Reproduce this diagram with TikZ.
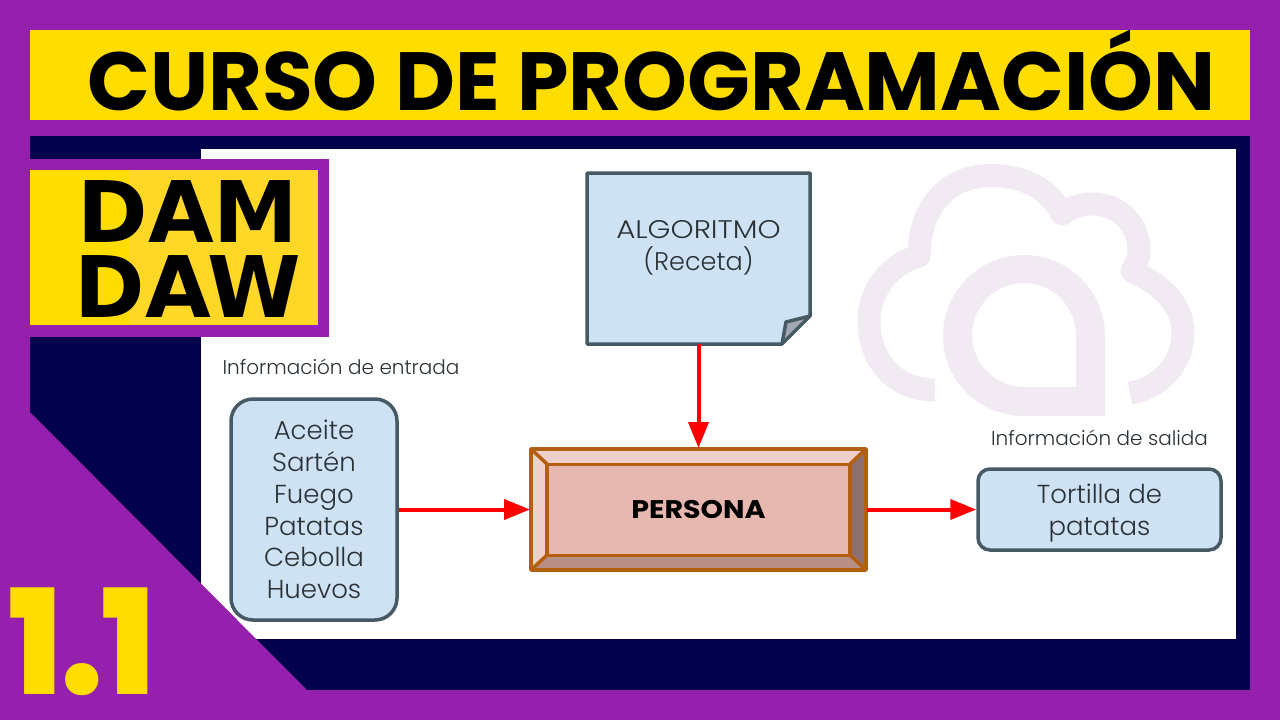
\documentclass[tikz,border=0pt]{standalone}
\usepackage{fontspec}
\usetikzlibrary{arrows.meta}
\setmainfont{Poppins}
\newfontfamily\lightf{Poppins Light}
\newfontfamily\boldf{Poppins Bold}
\newfontfamily\blackf{Poppins Black}
\newfontfamily\dejaf{DejaVu Sans Bold}
\definecolor{bgpurple}{HTML}{9620AE}
\definecolor{navy}{HTML}{03004C}
\definecolor{yell}{HTML}{FFDD00}
\definecolor{yell2}{HTML}{FFD726}
\definecolor{boxblue}{HTML}{CFE2F3}
\definecolor{slate}{HTML}{455A64}
\definecolor{brownline}{HTML}{B45F10}
\definecolor{face}{HTML}{E6B8AF}
\definecolor{bevlight}{HTML}{EFCFCA}
\definecolor{bevdark}{HTML}{8C7070}
\definecolor{bevbot}{HTML}{B88F85}
\definecolor{cloudc}{HTML}{F2EAF2}
\definecolor{inktext}{HTML}{2A3238}
\tikzset{
  x=1pt,y=-1pt,
  flow/.style={draw=red,line width=4pt,-{Triangle[length=26pt,width=20pt]}},
  bluebox/.style={draw=slate,fill=boxblue,line width=3.5pt,align=center,text=inktext,inner sep=0pt,font=\lightf\fontsize{26}{32}\selectfont},
  caption/.style={text=inktext,inner sep=0pt,font=\lightf\fontsize{20}{24}\selectfont},
  bev/.style={draw=brownline,line width=3.5pt,line join=round},
  cloudline/.style={draw=cloudc,line width=23pt,line cap=butt,line join=round}
}
\begin{document}
\begin{tikzpicture}
\useasboundingbox (0,0) rectangle (1280,720);
\fill[bgpurple] (0,0) rectangle (1280,720);
% title
\fill[yell] (30,30) rectangle (1250,120);
\node[inner sep=0pt,text=black,font=\boldf\fontsize{82.5}{82}\selectfont] (title) at (651.5,71) {CURSO DE PROGRAMACIÓN};
% panels
\fill[navy] (30,136) rectangle (1250,690);
\fill[white] (201,149) rectangle (1236,639);
% watermark
\draw[cloudline] (935,390) .. controls (893,390) and (869,358) .. (869,322)
  .. controls (869,288) and (892,263) .. (919,256)
  .. controls (919,205) and (950,175.5) .. (990,175.5)
  .. controls (1025,175.5) and (1050,190) .. (1062,214)
  .. controls (1070,208) and (1080,204) .. (1092,204)
  .. controls (1120,204) and (1139,225) .. (1139,250)
  .. controls (1139,258) and (1136,265) .. (1132,271)
  .. controls (1162,285) and (1183,305) .. (1183,333)
  .. controls (1183,365) and (1158,389) .. (1130,393);
\fill[cloudc,even odd rule]
  (1105,416) -- (1105,336) .. controls (1105,291.4) and (1068.8,255) .. (1024,255)
  .. controls (979.4,255) and (943,291.4) .. (943,336)
  .. controls (943,380.6) and (979.4,416) .. (1024,416) -- cycle
  (1076,387) -- (1076,335) .. controls (1076,306.3) and (1052.7,283) .. (1024,283)
  .. controls (995.3,283) and (972,306.3) .. (972,335)
  .. controls (972,363.7) and (995.3,387) .. (1024,387) -- cycle;
% purple corner
\fill[bgpurple] (30,412) -- (307,690) -- (30,690) -- cycle;
% DAM DAW badge
\fill[bgpurple] (30,159) rectangle (329,337);
\fill[yell2] (30,170) rectangle (318,325);
\fill[yell] (30,170) rectangle (129,325);
\node[inner sep=0pt,text=black,font=\dejaf\fontsize{85}{75}\selectfont,align=center] (dam) at (188,249) {DAM\\DAW};
\node[inner sep=0pt,text=yell,font=\blackf\fontsize{146}{146}\selectfont] (version) at (82,642) {\scalebox{.89}[1]{1.1}};
% captions
\node[caption] (incap) at (341,367) {Información de entrada};
\node[caption] (outcap) at (1099.5,438) {Información de salida};
% note
\fill[boxblue] (587,173) -- (810,173) -- (810,316) -- (782,344) -- (587,344) -- cycle;
\fill[bevbot!30!boxblue!70!slate] (810,316) -- (786,322) -- (782,344) -- cycle;
\draw[draw=slate,line width=3.5pt,line join=round] (587,173) -- (810,173) -- (810,316) -- (782,344) -- (587,344) -- cycle;
\draw[draw=slate,line width=3.5pt,line join=round] (810,316) -- (786,322) -- (782,344);
\node[minimum width=223pt,minimum height=171pt,inner sep=0pt] (algo) at (698.5,258.5) {};
\node[align=center,inner sep=0pt,text=inktext,font=\lightf\fontsize{25.5}{32}\selectfont] (algotext) at (698.5,248) {\scalebox{1.15}[1]{ALGORITMO}\\(Receta)};
% person bevel
\fill[bevlight] (531,449) -- (866,449) -- (850,464) -- (547,464) -- cycle;
\fill[bevlight] (531,449) -- (547,464) -- (547,555) -- (531,570) -- cycle;
\fill[bevdark] (866,449) -- (850,464) -- (850,555) -- (866,570) -- cycle;
\fill[bevbot] (531,570) -- (547,555) -- (850,555) -- (866,570) -- cycle;
\draw[bev] (531,449) -- (547,464) (866,449) -- (850,464) (531,570) -- (547,555) (866,570) -- (850,555);
\draw[bev] (531,449) rectangle (866,570);
\node[bev,fill=face,minimum width=303pt,minimum height=91pt,inner sep=0pt,outer sep=0pt,text=black,font=\boldf\fontsize{25.5}{30}\selectfont] (personatext) at (698.5,510) {\scalebox{1.12}[1]{PERSONA}};
\node[minimum width=337pt,minimum height=123pt,inner sep=0pt,outer sep=0pt] (persona) at (698.5,509.5) {};
% blue rounded boxes
\node[bluebox,rounded corners=22pt,minimum width=166pt,minimum height=221pt] (inputs) at (314,509.5) {};
\node[inner sep=0pt,align=center,text=inktext,font=\lightf\fontsize{26}{31.8}\selectfont] (inputstext) at (314,509.5) {Aceite\\Sartén\\Fuego\\Patatas\\Cebolla\\Huevos};
\node[bluebox,rounded corners=12pt,minimum width=243pt,minimum height=81pt] (output) at (1099.5,509.5) {};
\node[inner sep=0pt,align=center,text=inktext,font=\lightf\fontsize{26}{32}\selectfont] (outputtext) at (1099.5,513) {Tortilla de\\patatas};
% connectors
\draw[flow] (algo.south) -- (persona.north);
\draw[flow] (inputs.east) -- (persona.west);
\draw[flow] (persona.east) -- (output.west);
\end{tikzpicture}
\end{document}
